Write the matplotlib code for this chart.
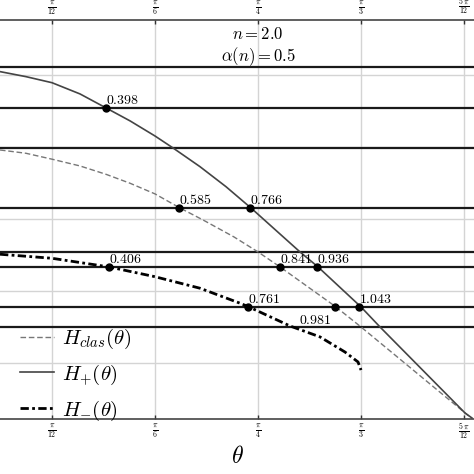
import numpy as np
import matplotlib
matplotlib.use('Agg')
import matplotlib.pyplot as plt

plt.rcParams['mathtext.fontset'] = 'cm'
plt.rcParams['font.family'] = 'serif'

# curves (theta in rad, H in plot units)
theta_plus = [0.1296, 0.1957, 0.2618, 0.3330, 0.3991, 0.4601, 0.5236, 0.5694, 0.6380, 0.7041,
              0.7677, 0.8922, 0.9380, 1.0473, 1.0956, 1.3116, 1.3294]
H_plus = [2.523, 2.488, 2.446, 2.368, 2.271, 2.181, 2.076, 1.993, 1.863, 1.724,
          1.576, 1.271, 1.167, 0.889, 0.750, 0.153, 0.118]

theta_clas = [0.1296, 0.1957, 0.2618, 0.3330, 0.3991, 0.4601, 0.5236, 0.5872, 0.6457, 0.7245,
              0.7855, 0.8414, 0.9837, 1.0473, 1.3243]
H_clas = [1.979, 1.956, 1.915, 1.868, 1.810, 1.748, 1.674, 1.576, 1.493, 1.375,
          1.271, 1.167, 0.889, 0.750, 0.125]

theta_minus = [0.1296, 0.2618, 0.4067, 0.5236, 0.6380, 0.7397, 0.7626, 0.8668, 0.9431, 1.0066, 1.0397, 1.0473]
H_minus = [1.255, 1.227, 1.167, 1.099, 1.019, 0.915, 0.889, 0.757, 0.681, 0.576, 0.507, 0.451]

levels = [2.556, 2.271, 1.993, 1.576, 1.271, 1.167, 0.889, 0.75]

cross_theta = [0.398, 0.585, 0.766, 0.406, 0.841, 0.936, 0.761, 0.981, 1.043]
cross_H = [2.271, 1.576, 1.576, 1.167, 1.167, 1.167, 0.889, 0.889, 0.889]
cross_labels = ['0.398', '0.585', '0.766', '0.406', '0.841', '0.936', '0.761', '0.981', '1.043']

xticks = [np.pi / 12, np.pi / 6, np.pi / 4, np.pi / 3, 5 * np.pi / 12]
xticklabels = [r'$\frac{\pi}{12}$', r'$\frac{\pi}{6}$', r'$\frac{\pi}{4}$', r'$\frac{\pi}{3}$', r'$\frac{5\,\pi}{12}$']
yticks = [0.5, 1.0, 1.5, 2.0, 2.5]

fig = plt.figure(figsize=(4.74, 4.74), dpi=100)
ax = fig.add_axes([0.0, 0.116, 1.0, 0.842])

for lv in levels:
    ax.axhline(lv, color='#1a1a1a', lw=1.6, zorder=2)

ax.plot(theta_clas, H_clas, color='#777777', lw=1.0, ls=(0, (4, 2)), label=r'$H_{clas}(\theta)$', zorder=3)
ax.plot(theta_plus, H_plus, color='#444444', lw=1.2, label=r'$H_{+}(\theta)$', zorder=3)
ax.plot(theta_minus, H_minus, color='black', lw=2.0, ls=(0, (3, 1.2, 1, 1.2)), label=r'$H_{-}(\theta)$', zorder=3)

ax.plot(cross_theta, cross_H, 'o', color='black', ms=5, zorder=4)
for t, h, s in zip(cross_theta, cross_H, cross_labels):
    if s == '0.981':
        ax.annotate('$' + s + '$', (t, h), xytext=(-14, -4), textcoords='offset points',
                    ha='center', va='top', fontsize=10)
    else:
        ax.annotate('$' + s + '$', (t, h), xytext=(0, 1), textcoords='offset points',
                    ha='left', va='bottom', fontsize=10)

ax.text(0.7854, 2.78, r'$n = 2.0$', ha='center', va='center', fontsize=12)
ax.text(0.7854, 2.63, r'$\alpha(n) = 0.5$', ha='center', va='center', fontsize=12)

ax.set_xlim(0.1296, 1.3345)
ax.set_ylim(0.111, 2.882)
ax.set_xticks(xticks)
ax.set_xticklabels(xticklabels, fontsize=8)
ax.set_yticks(yticks)
ax.tick_params(axis='y', left=False, labelleft=False)
ax.tick_params(axis='x', top=True, labeltop=True, direction='in', length=3, width=1, color='#333333', pad=2)
ax.grid(True, color='#d4d4d4', lw=1.0, zorder=0)
ax.spines['left'].set_visible(False)
ax.spines['right'].set_visible(False)
for sp in ['top', 'bottom']:
    ax.spines[sp].set_color('#444444')
    ax.spines[sp].set_linewidth(1.2)

ax.set_xlabel(r'$\theta$', fontsize=17, labelpad=2)

leg = ax.legend(loc='lower left', frameon=False, fontsize=15, handlelength=1.6, handletextpad=0.4,
                borderaxespad=0.0, labelspacing=0.55, bbox_to_anchor=(0.025, -0.03))

fig.savefig('out.png', dpi=100)
